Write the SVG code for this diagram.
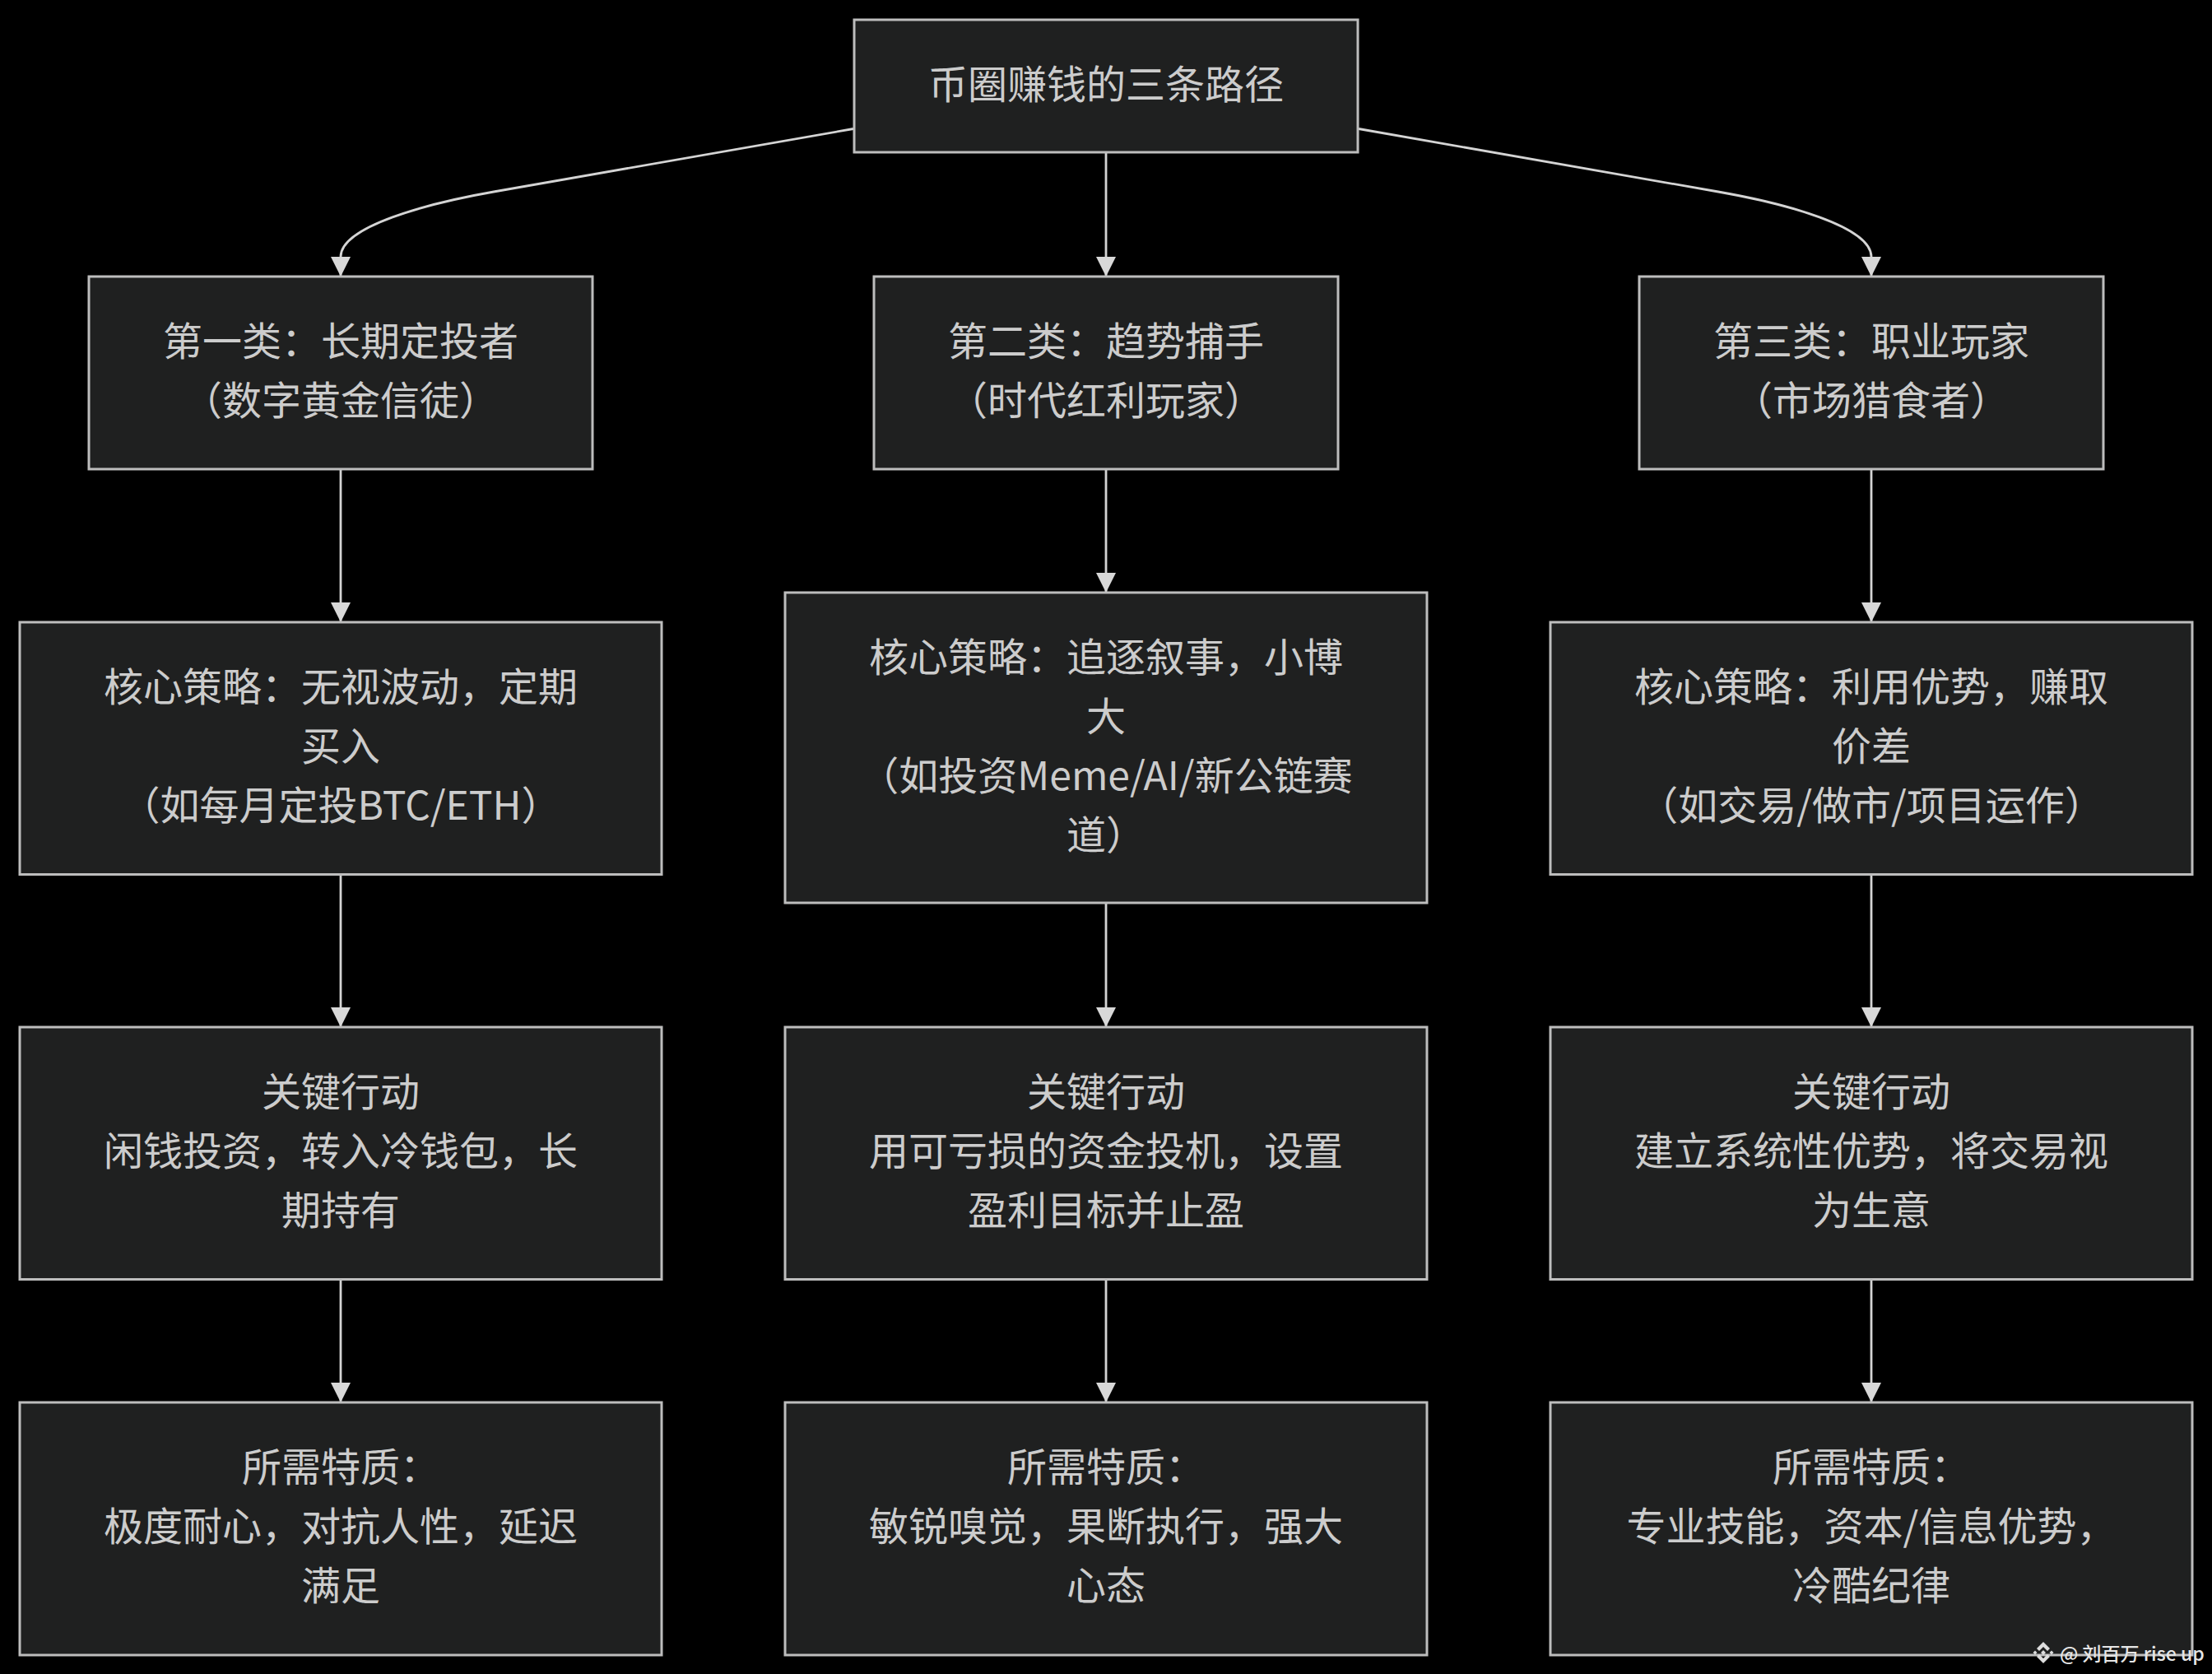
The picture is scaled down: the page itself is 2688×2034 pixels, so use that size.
<svg xmlns="http://www.w3.org/2000/svg" width="2688" height="2034" viewBox="0 0 2688 2034">
<style>
.n{fill:#1f2020;stroke:#bdbdbd;stroke-width:3}
.t{fill:#ccc;font-family:"Noto Sans CJK SC","Noto Sans",sans-serif;font-size:48px;text-anchor:middle}
.e{fill:none;stroke:#d4d4d4;stroke-width:2.800}
</style>
<defs>
<marker id="a" markerUnits="userSpaceOnUse" markerWidth="24" markerHeight="24" refX="24" refY="12" orient="auto"><path d="M0,0L24,12L0,24z" fill="#d8d8d8"/></marker>
</defs>
<rect width="2688" height="2034" fill="#000"/>
<g id="connectors">
<path class="e" marker-end="url(#a)" d="M1037,156.500L600,233C520,247 414,275 414,312V336"/>
<path class="e" marker-end="url(#a)" d="M1344,185V336"/>
<path class="e" marker-end="url(#a)" d="M1651,156.500L2088,233C2168,247 2274,275 2274,312V336"/>
<path class="e" marker-end="url(#a)" d="M414,570V756"/>
<path class="e" marker-end="url(#a)" d="M1344,570V720"/>
<path class="e" marker-end="url(#a)" d="M2274,570V756"/>
<path class="e" marker-end="url(#a)" d="M414,1063V1248"/>
<path class="e" marker-end="url(#a)" d="M1344,1097V1248"/>
<path class="e" marker-end="url(#a)" d="M2274,1063V1248"/>
<path class="e" marker-end="url(#a)" d="M414,1555V1704"/>
<path class="e" marker-end="url(#a)" d="M1344,1555V1704"/>
<path class="e" marker-end="url(#a)" d="M2274,1555V1704"/>
</g>
<g id="root"><rect class="n" x="1038" y="24" width="612" height="161"/><text class="t" x="1344" y="120">币圈赚钱的三条路径</text></g>
<g id="a1"><rect class="n" x="108" y="336" width="612" height="234"/><text class="t" x="414" y="432">第一类：长期定投者<tspan x="414" dy="72">（数字黄金信徒）</tspan></text></g>
<g id="b1"><rect class="n" x="1062" y="336" width="564" height="234"/><text class="t" x="1344" y="432">第二类：趋势捕手<tspan x="1344" dy="72">（时代红利玩家）</tspan></text></g>
<g id="c1"><rect class="n" x="1992" y="336" width="564" height="234"/><text class="t" x="2274" y="432">第三类：职业玩家<tspan x="2274" dy="72">（市场猎食者）</tspan></text></g>
<g id="a2"><rect class="n" x="24" y="756" width="780" height="306.500"/><text class="t" x="414" y="852">核心策略：无视波动，定期<tspan x="414" dy="72">买入</tspan><tspan x="414" dy="72">（如每月定投BTC/ETH）</tspan></text></g>
<g id="b2"><rect class="n" x="954" y="720" width="780" height="377"/><text class="t" x="1344" y="816">核心策略：追逐叙事，小博<tspan x="1344" dy="72">大</tspan><tspan x="1344" dy="72">（如投资Meme/AI/新公链赛</tspan><tspan x="1344" dy="72">道）</tspan></text></g>
<g id="c2"><rect class="n" x="1884" y="756" width="780" height="306.500"/><text class="t" x="2274" y="852">核心策略：利用优势，赚取<tspan x="2274" dy="72">价差</tspan><tspan x="2274" dy="72">（如交易/做市/项目运作）</tspan></text></g>
<g id="a3"><rect class="n" x="24" y="1248" width="780" height="306.500"/><text class="t" x="414" y="1344">关键行动<tspan x="414" dy="72">闲钱投资，转入冷钱包，长</tspan><tspan x="414" dy="72">期持有</tspan></text></g>
<g id="b3"><rect class="n" x="954" y="1248" width="780" height="306.500"/><text class="t" x="1344" y="1344">关键行动<tspan x="1344" dy="72">用可亏损的资金投机，设置</tspan><tspan x="1344" dy="72">盈利目标并止盈</tspan></text></g>
<g id="c3"><rect class="n" x="1884" y="1248" width="780" height="306.500"/><text class="t" x="2274" y="1344">关键行动<tspan x="2274" dy="72">建立系统性优势，将交易视</tspan><tspan x="2274" dy="72">为生意</tspan></text></g>
<g id="a4"><rect class="n" x="24" y="1704" width="780" height="307"/><text class="t" x="414" y="1800">所需特质：<tspan x="414" dy="72">极度耐心，对抗人性，延迟</tspan><tspan x="414" dy="72">满足</tspan></text></g>
<g id="b4"><rect class="n" x="954" y="1704" width="780" height="307"/><text class="t" x="1344" y="1800">所需特质：<tspan x="1344" dy="72">敏锐嗅觉，果断执行，强大</tspan><tspan x="1344" dy="72">心态</tspan></text></g>
<g id="c4"><rect class="n" x="1884" y="1704" width="780" height="307"/><text class="t" x="2274" y="1800">所需特质：<tspan x="2274" dy="72">专业技能，资本/信息优势，</tspan><tspan x="2274" dy="72">冷酷纪律</tspan></text></g>
<g id="watermark">
<path fill="#ddd" d="M2483,1995l8,8-3,3-5,-5-5,5-3,-3zM2483,2021l8,-8-3,-3-5,5-5,-5-3,3zM2483,2005l3,3-3,3-3,-3zM2473,2005.500l2.500,2.500-2.500,2.500-2.500,-2.500zM2493,2005.500l2.500,2.500-2.500,2.500-2.500,-2.500z"/>
<text x="2503" y="2018" style="fill:#e6e6e6;font-family:'Noto Sans CJK SC','Noto Sans',sans-serif;font-size:23px;font-weight:500">@ 刘百万 rise up</text>
</g>
</svg>
